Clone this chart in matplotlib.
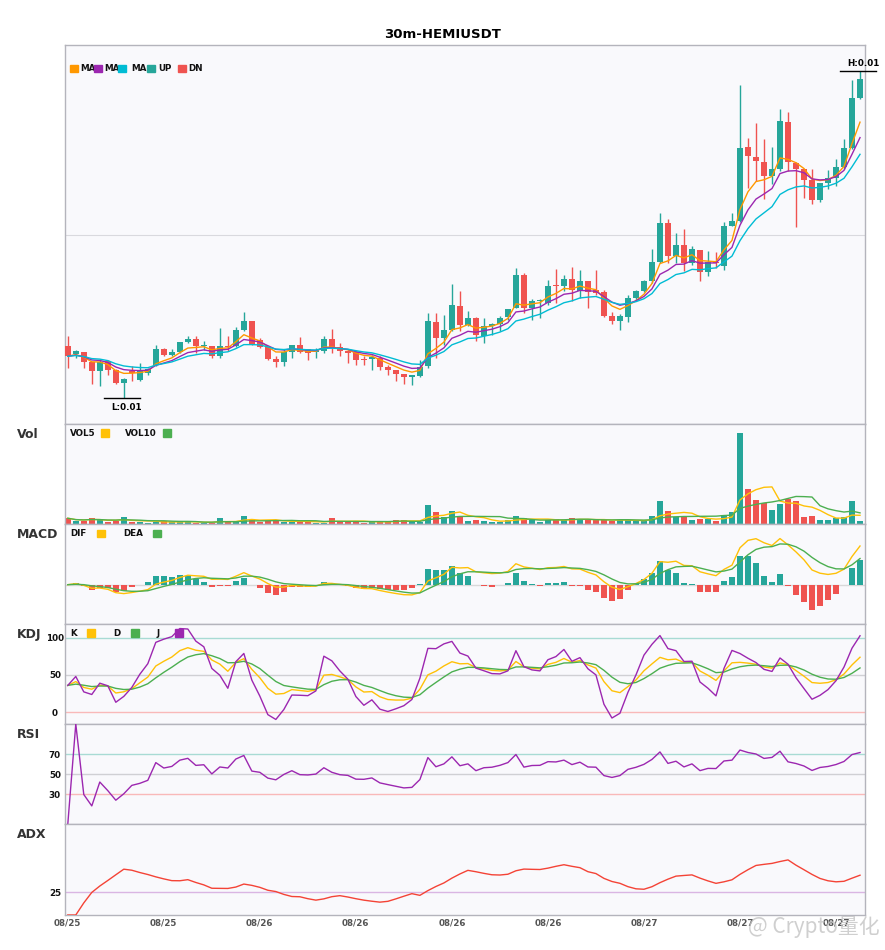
import numpy as np
import pandas as pd
import matplotlib
matplotlib.use('Agg')
import matplotlib.pyplot as plt
from matplotlib.patches import Rectangle
from matplotlib.transforms import Bbox, TransformedBbox

symbol = '30m-HEMIUSDT'
start_time = '2025-08-25 12:00'

# 30m candles, prices in USDT
opens = [0.010883, 0.010807, 0.010830, 0.010723, 0.010633, 0.010740, 0.010650, 0.010517, 0.010633, 0.010550,
         0.010617, 0.010700, 0.010857, 0.010800, 0.010823, 0.010923, 0.010957, 0.010883, 0.010890, 0.010783,
         0.010883, 0.010883, 0.011050, 0.011140, 0.010950, 0.010877, 0.010760, 0.010723, 0.010823, 0.010900,
         0.010857, 0.010830, 0.010833, 0.010957, 0.010877, 0.010830, 0.010823, 0.010757, 0.010760, 0.010767,
         0.010677, 0.010650, 0.010610, 0.010580, 0.010583, 0.010683, 0.011127, 0.010967, 0.011050, 0.011290,
         0.011100, 0.011167, 0.010990, 0.011083, 0.011110, 0.011177, 0.011267, 0.011600, 0.011267, 0.011333,
         0.011317, 0.011490, 0.011483, 0.011557, 0.011433, 0.011540, 0.011443, 0.011423, 0.011190, 0.011133,
         0.011177, 0.011367, 0.011433, 0.011533, 0.011723, 0.012110, 0.011783, 0.011900, 0.011717, 0.011850,
         0.011623, 0.011723, 0.011690, 0.012083, 0.012133, 0.012877, 0.012777, 0.012727, 0.012583, 0.012650,
         0.013123, 0.012717, 0.012650, 0.012543, 0.012343, 0.012510, 0.012567, 0.012677, 0.012860, 0.013367]
highs = [0.010990, 0.010850, 0.010830, 0.010723, 0.010750, 0.010750, 0.010660, 0.010570, 0.010683, 0.010717,
         0.010667, 0.010900, 0.010867, 0.010857, 0.010923, 0.010990, 0.010983, 0.010933, 0.010890, 0.011070,
         0.010990, 0.011077, 0.011223, 0.011140, 0.010967, 0.010877, 0.010783, 0.010857, 0.010900, 0.010977,
         0.010857, 0.010867, 0.010990, 0.011057, 0.010917, 0.010850, 0.010823, 0.010783, 0.010800, 0.010790,
         0.010700, 0.010650, 0.010610, 0.010600, 0.010750, 0.011220, 0.011217, 0.011200, 0.011510, 0.011433,
         0.011233, 0.011177, 0.011167, 0.011117, 0.011183, 0.011260, 0.011667, 0.011617, 0.011357, 0.011360,
         0.011550, 0.011657, 0.011600, 0.011677, 0.011650, 0.011540, 0.011643, 0.011443, 0.011223, 0.011210,
         0.011400, 0.011450, 0.011550, 0.011857, 0.012210, 0.012150, 0.012017, 0.012057, 0.011883, 0.011850,
         0.011833, 0.011823, 0.012123, 0.012210, 0.013490, 0.012967, 0.013110, 0.012950, 0.012877, 0.013250,
         0.013223, 0.012723, 0.012657, 0.012650, 0.012517, 0.012643, 0.012757, 0.012950, 0.013543, 0.013633]
lows = [0.010667, 0.010770, 0.010667, 0.010507, 0.010483, 0.010600, 0.010510, 0.010367, 0.010533, 0.010533,
        0.010600, 0.010683, 0.010783, 0.010790, 0.010817, 0.010917, 0.010817, 0.010850, 0.010770, 0.010770,
        0.010833, 0.010877, 0.011033, 0.010900, 0.010867, 0.010743, 0.010677, 0.010683, 0.010767, 0.010817,
        0.010750, 0.010767, 0.010817, 0.010817, 0.010790, 0.010717, 0.010700, 0.010700, 0.010650, 0.010650,
        0.010600, 0.010533, 0.010510, 0.010500, 0.010577, 0.010667, 0.010767, 0.010900, 0.011033, 0.011033,
        0.011083, 0.010933, 0.010917, 0.011000, 0.011033, 0.011150, 0.011267, 0.011217, 0.011150, 0.011167,
        0.011300, 0.011317, 0.011433, 0.011333, 0.011367, 0.011267, 0.011400, 0.011177, 0.011110, 0.011050,
        0.011123, 0.011350, 0.011423, 0.011517, 0.011717, 0.011717, 0.011717, 0.011633, 0.011700, 0.011533,
        0.011590, 0.011667, 0.011650, 0.012080, 0.012123, 0.012467, 0.012533, 0.012350, 0.012500, 0.012633,
        0.012633, 0.012077, 0.012367, 0.012300, 0.012323, 0.012457, 0.012483, 0.012650, 0.012850, 0.013357]
closes = [0.010783, 0.010833, 0.010723, 0.010633, 0.010723, 0.010650, 0.010517, 0.010557, 0.010617, 0.010633,
          0.010657, 0.010857, 0.010800, 0.010823, 0.010923, 0.010957, 0.010883, 0.010893, 0.010783, 0.010890,
          0.010877, 0.011050, 0.011140, 0.010900, 0.010877, 0.010760, 0.010723, 0.010823, 0.010900, 0.010823,
          0.010817, 0.010833, 0.010957, 0.010877, 0.010833, 0.010820, 0.010750, 0.010747, 0.010767, 0.010677,
          0.010643, 0.010610, 0.010577, 0.010583, 0.010677, 0.011140, 0.010967, 0.011050, 0.011300, 0.011100,
          0.011167, 0.010993, 0.011090, 0.011107, 0.011167, 0.011260, 0.011600, 0.011267, 0.011333, 0.011340,
          0.011490, 0.011483, 0.011557, 0.011450, 0.011540, 0.011423, 0.011417, 0.011190, 0.011133, 0.011183,
          0.011367, 0.011433, 0.011533, 0.011723, 0.012110, 0.011790, 0.011900, 0.011717, 0.011860, 0.011623,
          0.011723, 0.011717, 0.012083, 0.012130, 0.012867, 0.012783, 0.012733, 0.012583, 0.012650, 0.013133,
          0.012723, 0.012650, 0.012543, 0.012343, 0.012510, 0.012567, 0.012677, 0.012860, 0.013367, 0.013550]
# volume per candle, millions
volumes = [6.0, 3.3, 3.7, 6.0, 4.3, 2.3, 3.7, 7.0, 2.3, 2.3,
           1.3, 2.3, 3.3, 2.3, 2.3, 2.3, 1.7, 1.7, 1.7, 6.0,
           2.3, 2.3, 8.3, 5.0, 2.7, 3.3, 3.3, 2.7, 2.7, 2.7,
           2.7, 1.7, 1.7, 6.3, 2.7, 2.7, 2.7, 1.7, 2.7, 2.7,
           2.3, 4.3, 4.3, 3.3, 2.7, 19.3, 11.7, 7.7, 13.3, 8.7,
           3.3, 4.3, 3.3, 2.3, 2.3, 4.3, 8.7, 6.3, 4.3, 2.3,
           4.3, 5.3, 4.3, 6.3, 4.3, 4.3, 4.3, 4.3, 3.7, 4.3,
           4.3, 3.0, 3.0, 8.3, 23.3, 13.3, 7.0, 7.0, 4.3, 5.7,
           5.0, 3.7, 9.3, 12.3, 90.3, 35.3, 24.3, 21.0, 14.3, 20.3,
           25.3, 23.3, 7.7, 8.3, 4.3, 4.3, 6.3, 7.3, 23.3, 3.3]

ma_periods = [5, 8, 13]

df = pd.DataFrame({'open': opens, 'high': highs, 'low': lows,
                   'close': closes, 'volume': volumes})
df.index = pd.date_range(start_time, periods=len(df), freq='30min')
n = len(df)
x = np.arange(n)
close = df['close']

# indicators
for p in ma_periods:
    df[f'ma{p}'] = close.ewm(span=p, adjust=False).mean()
df['vol5'] = df['volume'].rolling(5, min_periods=1).mean()
df['vol10'] = df['volume'].rolling(10, min_periods=1).mean()

# fast MACD 6/13/5
ema_fast = close.ewm(span=6, adjust=False).mean()
ema_slow = close.ewm(span=13, adjust=False).mean()
dif = ema_fast - ema_slow
dea = dif.ewm(span=5, adjust=False).mean()
hist = 2 * (dif - dea)

low9 = df['low'].rolling(9, min_periods=1).min()
high9 = df['high'].rolling(9, min_periods=1).max()
rsv = (close - low9) / (high9 - low9) * 100
k = rsv.ewm(com=2, adjust=False).mean()
d = k.ewm(com=2, adjust=False).mean()
j = 3 * k - 2 * d

# RSI 14, Wilder smoothing
delta = close.diff().fillna(0)
gain = delta.clip(lower=0).ewm(alpha=1 / 14, adjust=False).mean()
loss = (-delta.clip(upper=0)).ewm(alpha=1 / 14, adjust=False).mean()
rsi = (100 * gain / (gain + loss)).fillna(0)

up_move = df['high'].diff()
down_move = -df['low'].diff()
plus_dm = pd.Series(np.where((up_move > down_move) & (up_move > 0), up_move, 0.0), index=df.index)
minus_dm = pd.Series(np.where((down_move > up_move) & (down_move > 0), down_move, 0.0), index=df.index)
prev_close = close.shift()
tr = pd.concat([df['high'] - df['low'], (df['high'] - prev_close).abs(),
                (df['low'] - prev_close).abs()], axis=1).max(axis=1)
atr = tr.ewm(span=14, adjust=False).mean()
pdi = 100 * plus_dm.ewm(span=14, adjust=False).mean() / atr
mdi = 100 * minus_dm.ewm(span=14, adjust=False).mean() / atr
dx = (100 * (pdi - mdi).abs() / (pdi + mdi)).fillna(0)
adx = dx.ewm(span=14, adjust=False).mean()

# style
UP, DN = '#26a69a', '#ef5350'
MA_COLORS = ['#ff9800', '#9c27b0', '#00bcd4']
YEL, GRN, PUR = '#ffc107', '#4caf50', '#9c27b0'
BG, SPINE = '#f9f9fc', '#b4b4bc'
W, H = 885, 950
LEFT, RIGHT = 65.3, 865.3
XLIM = (-0.31, 99.66)

fig = plt.figure(figsize=(W / 100, H / 100), dpi=100)
fig.patch.set_facecolor('white')


def add_panel(top, bottom):
    ax = fig.add_axes([LEFT / W, 1 - bottom / H, (RIGHT - LEFT) / W, (bottom - top) / H])
    ax.set_facecolor(BG)
    for s in ax.spines.values():
        s.set_color(SPINE)
        s.set_linewidth(1)
    ax.set_xlim(*XLIM)
    ax.set_xticks([])
    ax.set_yticks([])
    ax.tick_params(length=0, labelsize=6.3, pad=7.5)
    return ax


def fmt_yticks(ax, ticks):
    ax.set_yticks(ticks)
    ax.set_yticklabels([str(t) for t in ticks])
    for lab in ax.get_yticklabels():
        lab.set_ha('center')
        lab.set_fontweight('bold')
        lab.set_color('#111111')


def square(xp, yc, color):
    fig.add_artist(Rectangle((xp / W, 1 - (yc + 3.7) / H), 7.5 / W, 7.4 / H,
                             transform=fig.transFigure, color=color, zorder=5))


def label(xp, yc, s, clip_to=None):
    t = fig.text(xp / W, 1 - yc / H, s, ha='left', va='center', fontsize=6.3,
                 fontweight='bold', color='#111111', zorder=3)
    if clip_to is not None:
        t.set_clip_box(TransformedBbox(Bbox.from_extents(0, 0, clip_to / W, 1), fig.transFigure))
        t.set_clip_on(True)


def panel_name(top, s):
    fig.text(17 / W, 1 - (top + 4) / H, s, ha='left', va='top', fontsize=9,
             fontweight='bold', color='#333333')


bounds = [(45, 424), (424, 524.3), (524.3, 624), (624, 724), (724, 824.3), (824.3, 915)]
ax_p, ax_v, ax_m, ax_k, ax_r, ax_a = [add_panel(t, b) for t, b in bounds]

# price panel
colors = np.where(df['close'] >= df['open'], UP, DN)
lo, hi = df['low'].min(), df['high'].max()
span = hi - lo
ax_p.set_ylim(lo - 0.08 * span, hi + 0.08 * span)
ax_p.vlines(x, df['low'], df['high'], colors=colors, lw=1, zorder=2)
body_lo = np.minimum(df['open'], df['close'])
body_h = np.maximum((df['close'] - df['open']).abs(), span * 0.004)
ax_p.bar(x, body_h, bottom=body_lo, width=0.7, color=colors, zorder=3)
for p, c in zip(ma_periods, MA_COLORS):
    ax_p.plot(x, df[f'ma{p}'], color=c, lw=1, zorder=4)
ax_p.set_yticks([sum(ax_p.get_ylim()) / 2])
ax_p.set_yticklabels([])
ax_p.grid(axis='y', color='#d9d9de', lw=0.8)
ax_p.set_axisbelow(True)

ih, il = int(df['high'].values.argmax()), int(df['low'].values.argmin())
ax_p.plot([ih - 2.5, ih + 2], [hi, hi], color='black', lw=1, clip_on=False, zorder=6)
ax_p.annotate(f'H:{hi:.2f}', (ih + 0.4, hi), xytext=(0, 2), textcoords='offset points',
              ha='center', va='bottom', fontsize=6.3, fontweight='bold', annotation_clip=False)
ax_p.plot([il - 2.5, il + 2], [lo, lo], color='black', lw=1, clip_on=False, zorder=6)
ax_p.annotate(f'L:{lo:.2f}', (il + 0.4, lo), xytext=(0, -3.5), textcoords='offset points',
              ha='center', va='top', fontsize=6.3, fontweight='bold', annotation_clip=False)

main_legend = [(f'MA{ma_periods[0]}', MA_COLORS[0], 70), (f'MA{ma_periods[1]}', MA_COLORS[1], 94),
               (f'MA{ma_periods[2]}', MA_COLORS[2], 118.3), ('UP', UP, 147.3), ('DN', DN, 178)]
for i, (s, c, xp) in enumerate(main_legend):
    square(xp, 68.7, c)
    nxt = main_legend[i + 1][2] if i + 1 < len(main_legend) else None
    label(xp + (13 if i == 2 else 10.5), 68.9, s, clip_to=nxt)

# volume panel
ax_v.bar(x, df['volume'], width=0.75, color=colors, zorder=2)
ax_v.plot(x, df['vol5'], color=YEL, lw=1, zorder=3)
ax_v.plot(x, df['vol10'], color=GRN, lw=1, zorder=3)
ax_v.set_ylim(0, df['volume'].max() * 1.1)
panel_name(424, 'Vol')
for s, xp, sq, c in [('VOL5', 70, 101, YEL), ('VOL10', 125.3, 163, GRN)]:
    label(xp, 433.8, s)
    square(sq, 433, c)

# MACD panel
ax_m.axhline(0, color='#d9d9d9', lw=1, zorder=1)
ax_m.bar(x, hist, width=0.75, color=np.where(hist >= 0, UP, DN), zorder=2)
ax_m.plot(x, dif, color=YEL, lw=1, zorder=3)
ax_m.plot(x, dea, color=GRN, lw=1, zorder=3)
ax_m.margins(x=0, y=0.2)
ax_m.set_xlim(*XLIM)
panel_name(524.3, 'MACD')
for s, xp, sq, c in [('DIF', 70.3, 97, YEL), ('DEA', 123.7, 153, GRN)]:
    label(xp, 533.8, s)
    square(sq, 533.2, c)

# KDJ panel
ax_k.axhline(100, color='#a8dbd4', lw=1, zorder=1)
ax_k.axhline(50, color='#d0d0d4', lw=1, zorder=1)
ax_k.axhline(0, color='#f9b9b9', lw=1, zorder=1)
ax_k.plot(x, k, color=YEL, lw=1, zorder=3)
ax_k.plot(x, d, color=GRN, lw=1, zorder=3)
ax_k.plot(x, j, color=PUR, lw=1, zorder=3)
ax_k.set_xlim(*XLIM)
fmt_yticks(ax_k, [0, 50, 100])
panel_name(624, 'KDJ')
for s, xp, sq, c in [('K', 70.3, 87.3, YEL), ('D', 113.3, 131, GRN), ('J', 156.3, 175.3, PUR)]:
    label(xp, 633.8, s)
    square(sq, 633, c)

# RSI panel
ax_r.axhline(70, color='#a8dbd4', lw=1, zorder=1)
ax_r.axhline(50, color='#d0d0d4', lw=1, zorder=1)
ax_r.axhline(30, color='#f9b9b9', lw=1, zorder=1)
ax_r.plot(x, rsi, color=PUR, lw=1, zorder=3)
ax_r.set_ylim(0, 100)
fmt_yticks(ax_r, [30, 50, 70])
panel_name(724, 'RSI')

# ADX panel
ax_a.axhline(25, color='#dab6e3', lw=1, zorder=1)
ax_a.plot(x, adx, color='#f44336', lw=1, zorder=3)
ax_a.set_ylim(0, 100)
fmt_yticks(ax_a, [25])
panel_name(824.3, 'ADX')
tick_pos = list(range(0, n, 12))
ax_a.set_xticks(tick_pos)
ax_a.set_xticklabels([df.index[i].strftime('%m/%d') for i in tick_pos])
ax_a.tick_params(axis='x', pad=2.5, labelsize=6.3, labelcolor='#555555')
for lab in ax_a.get_xticklabels():
    lab.set_fontweight('bold')

fig.text(0.5, 1 - 34 / H, symbol, ha='center', va='center', fontsize=9.5, fontweight='bold')
fig.text(880 / W, 1 - 927 / H, '@ Crypto量化', ha='right', va='center', fontsize=15,
         color='#c4c4c4', alpha=0.8, family=['Noto Sans CJK SC', 'DejaVu Sans'])

fig.savefig('out.png', dpi=100)
